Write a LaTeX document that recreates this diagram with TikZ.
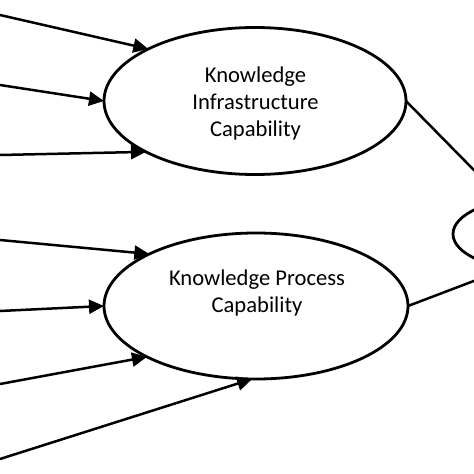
\documentclass[tikz,border=0pt]{standalone}
\usepackage{fontspec}
\setmainfont{Carlito}
\usetikzlibrary{arrows.meta,shapes.geometric}
\begin{document}
\begin{tikzpicture}[x=1pt,y=-1pt,
  construct/.style={draw,ellipse,line width=2.8pt,inner sep=0pt,outer sep=0pt},
  lbl/.style={align=center,font=\fontsize{22.6}{27}\selectfont,inner sep=0pt},
  arr/.style={line width=2.5pt,-{Triangle[length=15pt,width=14pt]}},
  link/.style={line width=2.5pt}]
\useasboundingbox (0,0) rectangle (474,474);
\clip (0,0) rectangle (474,474);
\node[construct,minimum width=302pt,minimum height=147pt] (infra) at (255,101) {};
\node[construct,minimum width=304pt,minimum height=146pt] (proc) at (256,306) {};
\node[construct,minimum width=160pt,minimum height=71pt] (third) at (533,234) {};
\node[lbl] (tinfra) at (255.5,103.4) {Knowledge\\Infrastructure\\Capability};
\node[lbl] (tproc) at (257,292.8) {Knowledge Process\\Capability};
\coordinate (s1) at (0,15);
\coordinate (s2) at (0,85);
\coordinate (s3) at (0,155);
\coordinate (s4) at (0,240);
\coordinate (s5) at (0,311);
\coordinate (s6) at (0,384);
\coordinate (s7) at (0,459);
\draw[arr] (s1) -- (infra.154.5);
\draw[arr] (s2) -- (infra.180);
\draw[arr] (s3) -- (infra.205.7);
\draw[arr] (s4) -- (proc.154.5);
\draw[arr] (s5) -- (proc.180);
\draw[arr] (s6) -- (proc.205.9);
\draw[arr] (s7) -- (proc.267);
\draw[link] (infra.east) -- (third.131.3);
\draw[link] (proc.east) -- (third.234.2);
\end{tikzpicture}
\end{document}
